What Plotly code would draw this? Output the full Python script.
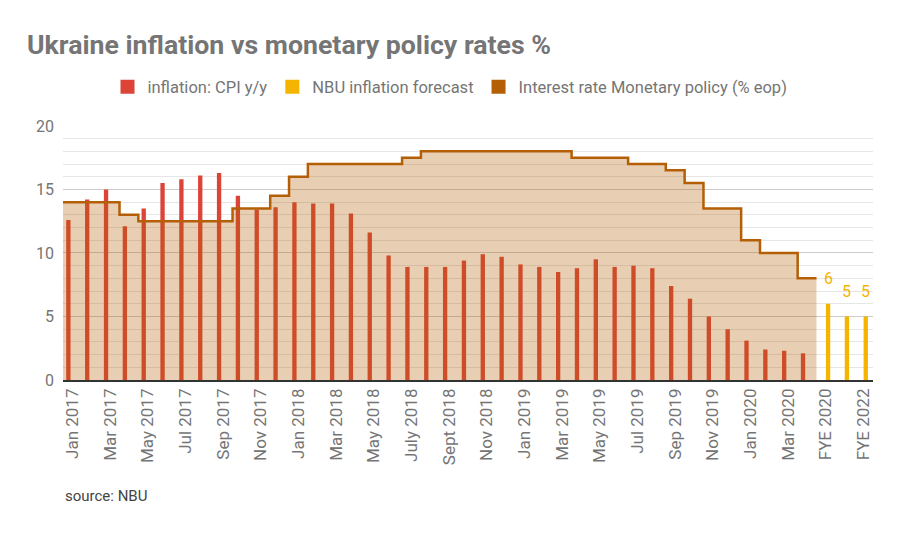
import plotly.graph_objects as go

categories = [
    "Jan 2017", "Feb 2017", "Mar 2017", "Apr 2017", "May 2017", "Jun 2017",
    "Jul 2017", "Aug 2017", "Sep 2017", "Oct 2017", "Nov 2017", "Dec 2017",
    "Jan 2018", "Feb 2018", "Mar 2018", "Apr 2018", "May 2018", "Jun 2018",
    "July 2018", "Aug 2018", "Sept 2018", "Oct 2018", "Nov 2018", "Dec 2018",
    "Jan 2019", "Feb 2019", "Mar 2019", "Apr 2019", "May 2019", "Jun 2019",
    "Jul 2019", "Aug 2019", "Sep 2019", "Oct 2019", "Nov 2019", "Dec 2019",
    "Jan 2020", "Feb 2020", "Mar 2020", "Apr 2020",
    "FYE 2020", "FYE 2021", "FYE 2022",
]

cpi = [
    12.6, 14.2, 15.0, 12.1, 13.5, 15.5, 15.8, 16.1, 16.3, 14.5, 13.4, 13.6,
    14.0, 13.9, 13.9, 13.1, 11.6, 9.8, 8.9, 8.9, 8.9, 9.4, 9.9, 9.7,
    9.1, 8.9, 8.5, 8.8, 9.5, 8.9, 9.0, 8.8, 7.4, 6.4, 5.0, 4.0,
    3.1, 2.4, 2.3, 2.1,
]

forecast_cats = ["FYE 2020", "FYE 2021", "FYE 2022"]
forecast = [6, 5, 5]

policy_rate = [
    14, 14, 14, 13, 12.5, 12.5, 12.5, 12.5, 12.5, 13.5, 13.5, 14.5,
    16, 17, 17, 17, 17, 17, 17.5, 18, 18, 18, 18, 18,
    18, 18, 18, 17.5, 17.5, 17.5, 17, 17, 16.5, 15.5, 13.5, 13.5,
    11, 10, 10, 8,
]

RED = "#db4437"
YELLOW = "#f4b400"
BROWN = "#b45f06"
GREY = "#757575"
FONT = "Roboto"

idx = {c: i for i, c in enumerate(categories)}
cpi_x = [idx[c] for c in categories[:len(cpi)]]
fc_x = [idx[c] for c in forecast_cats]
rate_x = [i - 0.5 for i in range(len(policy_rate))] + [len(policy_rate) - 0.5]
rate_y = policy_rate + [policy_rate[-1]]

fig = go.Figure()

fig.add_trace(go.Scatter(
    x=rate_x, y=rate_y, mode="lines", line=dict(color=BROWN, width=2.5, shape="hv"),
    fill="tozeroy", fillcolor="rgba(180,95,6,0.3)", showlegend=False, hoverinfo="skip",
))

fig.add_trace(go.Bar(
    x=cpi_x, y=cpi, marker=dict(color=RED, line=dict(width=0)),
    width=0.23, offset=-0.33, showlegend=False,
))
fig.add_trace(go.Bar(
    x=fc_x, y=forecast, marker=dict(color=YELLOW, line=dict(width=0)),
    width=0.23, offset=0.0, showlegend=False,
))

# legend entries
for name, col in [("inflation: CPI y/y", RED), ("NBU inflation forecast", YELLOW),
                  ("Interest rate Monetary policy (% eop)", BROWN)]:
    fig.add_trace(go.Scatter(
        x=[None], y=[None], mode="markers", name=name,
        marker=dict(symbol="square", size=14, color=col),
    ))

for xv, yv in zip(fc_x, forecast):
    fig.add_annotation(x=xv + 0.115, y=yv, text=str(yv), showarrow=False,
                       yshift=25, font=dict(family=FONT, size=16, color=YELLOW))

fig.add_annotation(xref="paper", yref="paper", x=0, y=-0.455, xanchor="left", yanchor="middle",
                   text="source: NBU", showarrow=False,
                   font=dict(family=FONT, size=15, color="#444444"))

fig.update_layout(
    width=900, height=533,
    margin=dict(l=63, r=27, t=124, b=153),
    paper_bgcolor="white", plot_bgcolor="white",
    font=dict(family=FONT, color=GREY),
    barmode="overlay",
    title=dict(text="<b>Ukraine inflation vs monetary policy rates %</b>",
               x=27 / 900, xanchor="left", xref="container",
               y=1 - 45 / 533, yanchor="middle", yref="container",
               font=dict(family=FONT, size=26.7, color=GREY)),
    legend=dict(orientation="h", x=450 / 900, xanchor="center", xref="container",
                y=1 - 87 / 533, yanchor="middle", yref="container",
                font=dict(family=FONT, size=16.5, color=GREY), itemwidth=30,
                bgcolor="rgba(0,0,0,0)"),
    showlegend=True,
)

fig.update_xaxes(
    range=[-0.5, len(categories) - 0.5],
    tickmode="array", tickvals=list(range(0, len(categories), 2)),
    ticktext=categories[::2], tickangle=-90,
    tickfont=dict(family=FONT, size=17, color=GREY),
    showgrid=False, zeroline=False, showline=True, linecolor="#333333", linewidth=1.5,
    ticks="",
)
fig.update_yaxes(
    range=[0, 20], tickmode="array", tickvals=[0, 5, 10, 15, 20],
    tickfont=dict(family=FONT, size=16, color=GREY),
    showgrid=True, gridcolor="#cccccc", gridwidth=1,
    minor=dict(dtick=1, showgrid=True, gridcolor="#e6e6e6", gridwidth=1),
    zeroline=False, ticklabelstandoff=8,
)

fig.write_html("out.html")
